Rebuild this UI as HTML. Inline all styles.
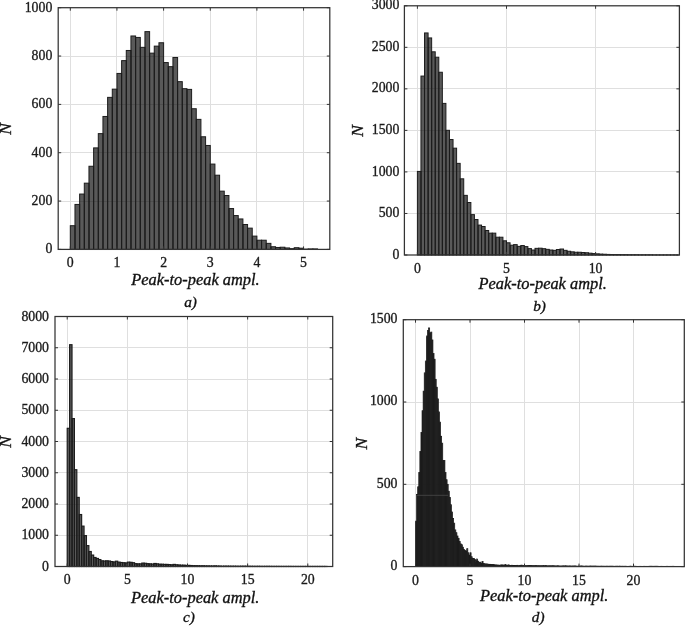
<!DOCTYPE html>
<html><head><meta charset="utf-8"><title>Histograms</title>
<style>
html,body{margin:0;padding:0;background:#fff}
svg{display:block}
.t{font-family:"Liberation Serif",serif;fill:#1a1a1a;stroke:#1a1a1a;stroke-width:0.35px}
.i{font-family:"Liberation Serif",serif;font-style:italic;fill:#111;stroke:#111;stroke-width:0.33px}
</style></head><body>
<svg width="685" height="626" viewBox="0 0 685 626">
<rect width="685" height="626" fill="#fff"/>
<rect x="58.2" y="7.7" width="271.6" height="241.70000000000002" fill="#fff"/>
<line x1="70.50" y1="7.7" x2="70.50" y2="249.4" stroke="#dfdfdf" stroke-width="1"/>
<line x1="116.50" y1="7.7" x2="116.50" y2="249.4" stroke="#dfdfdf" stroke-width="1"/>
<line x1="163.50" y1="7.7" x2="163.50" y2="249.4" stroke="#dfdfdf" stroke-width="1"/>
<line x1="210.50" y1="7.7" x2="210.50" y2="249.4" stroke="#dfdfdf" stroke-width="1"/>
<line x1="256.50" y1="7.7" x2="256.50" y2="249.4" stroke="#dfdfdf" stroke-width="1"/>
<line x1="303.50" y1="7.7" x2="303.50" y2="249.4" stroke="#dfdfdf" stroke-width="1"/>
<line x1="58.2" y1="201.50" x2="329.8" y2="201.50" stroke="#dfdfdf" stroke-width="1"/>
<line x1="58.2" y1="152.50" x2="329.8" y2="152.50" stroke="#dfdfdf" stroke-width="1"/>
<line x1="58.2" y1="104.50" x2="329.8" y2="104.50" stroke="#dfdfdf" stroke-width="1"/>
<line x1="58.2" y1="56.50" x2="329.8" y2="56.50" stroke="#dfdfdf" stroke-width="1"/>
<rect x="70.30" y="225.71" width="4.67" height="23.69" fill="#000" fill-opacity="0.65" stroke="#1c1c1c" stroke-width="1.0"/>
<rect x="74.97" y="204.44" width="4.67" height="44.96" fill="#000" fill-opacity="0.65" stroke="#1c1c1c" stroke-width="1.0"/>
<rect x="79.63" y="194.05" width="4.67" height="55.35" fill="#000" fill-opacity="0.65" stroke="#1c1c1c" stroke-width="1.0"/>
<rect x="84.30" y="183.17" width="4.67" height="66.23" fill="#000" fill-opacity="0.65" stroke="#1c1c1c" stroke-width="1.0"/>
<rect x="88.96" y="166.26" width="4.67" height="83.14" fill="#000" fill-opacity="0.65" stroke="#1c1c1c" stroke-width="1.0"/>
<rect x="93.62" y="147.89" width="4.67" height="101.51" fill="#000" fill-opacity="0.65" stroke="#1c1c1c" stroke-width="1.0"/>
<rect x="98.29" y="133.63" width="4.67" height="115.77" fill="#000" fill-opacity="0.65" stroke="#1c1c1c" stroke-width="1.0"/>
<rect x="102.95" y="116.47" width="4.67" height="132.94" fill="#000" fill-opacity="0.65" stroke="#1c1c1c" stroke-width="1.0"/>
<rect x="107.62" y="97.37" width="4.67" height="152.03" fill="#000" fill-opacity="0.65" stroke="#1c1c1c" stroke-width="1.0"/>
<rect x="112.28" y="89.15" width="4.67" height="160.25" fill="#000" fill-opacity="0.65" stroke="#1c1c1c" stroke-width="1.0"/>
<rect x="116.95" y="73.44" width="4.67" height="175.96" fill="#000" fill-opacity="0.65" stroke="#1c1c1c" stroke-width="1.0"/>
<rect x="121.62" y="60.63" width="4.67" height="188.77" fill="#000" fill-opacity="0.65" stroke="#1c1c1c" stroke-width="1.0"/>
<rect x="126.28" y="50.48" width="4.67" height="198.92" fill="#000" fill-opacity="0.65" stroke="#1c1c1c" stroke-width="1.0"/>
<rect x="130.94" y="35.98" width="4.67" height="213.42" fill="#000" fill-opacity="0.65" stroke="#1c1c1c" stroke-width="1.0"/>
<rect x="135.61" y="37.43" width="4.67" height="211.97" fill="#000" fill-opacity="0.65" stroke="#1c1c1c" stroke-width="1.0"/>
<rect x="140.27" y="47.34" width="4.67" height="202.06" fill="#000" fill-opacity="0.65" stroke="#1c1c1c" stroke-width="1.0"/>
<rect x="144.94" y="31.63" width="4.67" height="217.77" fill="#000" fill-opacity="0.65" stroke="#1c1c1c" stroke-width="1.0"/>
<rect x="149.61" y="53.14" width="4.67" height="196.26" fill="#000" fill-opacity="0.65" stroke="#1c1c1c" stroke-width="1.0"/>
<rect x="154.27" y="46.13" width="4.67" height="203.27" fill="#000" fill-opacity="0.65" stroke="#1c1c1c" stroke-width="1.0"/>
<rect x="158.94" y="42.75" width="4.67" height="206.65" fill="#000" fill-opacity="0.65" stroke="#1c1c1c" stroke-width="1.0"/>
<rect x="163.60" y="62.57" width="4.67" height="186.83" fill="#000" fill-opacity="0.65" stroke="#1c1c1c" stroke-width="1.0"/>
<rect x="168.26" y="66.67" width="4.67" height="182.73" fill="#000" fill-opacity="0.65" stroke="#1c1c1c" stroke-width="1.0"/>
<rect x="172.93" y="57.49" width="4.67" height="191.91" fill="#000" fill-opacity="0.65" stroke="#1c1c1c" stroke-width="1.0"/>
<rect x="177.60" y="81.66" width="4.67" height="167.74" fill="#000" fill-opacity="0.65" stroke="#1c1c1c" stroke-width="1.0"/>
<rect x="182.26" y="88.67" width="4.67" height="160.73" fill="#000" fill-opacity="0.65" stroke="#1c1c1c" stroke-width="1.0"/>
<rect x="186.93" y="89.39" width="4.67" height="160.01" fill="#000" fill-opacity="0.65" stroke="#1c1c1c" stroke-width="1.0"/>
<rect x="191.59" y="108.73" width="4.67" height="140.67" fill="#000" fill-opacity="0.65" stroke="#1c1c1c" stroke-width="1.0"/>
<rect x="196.25" y="119.37" width="4.67" height="130.03" fill="#000" fill-opacity="0.65" stroke="#1c1c1c" stroke-width="1.0"/>
<rect x="200.92" y="136.77" width="4.67" height="112.63" fill="#000" fill-opacity="0.65" stroke="#1c1c1c" stroke-width="1.0"/>
<rect x="205.59" y="145.47" width="4.67" height="103.93" fill="#000" fill-opacity="0.65" stroke="#1c1c1c" stroke-width="1.0"/>
<rect x="210.25" y="164.08" width="4.67" height="85.32" fill="#000" fill-opacity="0.65" stroke="#1c1c1c" stroke-width="1.0"/>
<rect x="214.92" y="175.20" width="4.67" height="74.20" fill="#000" fill-opacity="0.65" stroke="#1c1c1c" stroke-width="1.0"/>
<rect x="219.58" y="191.15" width="4.67" height="58.25" fill="#000" fill-opacity="0.65" stroke="#1c1c1c" stroke-width="1.0"/>
<rect x="224.25" y="195.50" width="4.67" height="53.90" fill="#000" fill-opacity="0.65" stroke="#1c1c1c" stroke-width="1.0"/>
<rect x="228.91" y="208.55" width="4.67" height="40.85" fill="#000" fill-opacity="0.65" stroke="#1c1c1c" stroke-width="1.0"/>
<rect x="233.57" y="215.56" width="4.67" height="33.84" fill="#000" fill-opacity="0.65" stroke="#1c1c1c" stroke-width="1.0"/>
<rect x="238.24" y="218.95" width="4.67" height="30.45" fill="#000" fill-opacity="0.65" stroke="#1c1c1c" stroke-width="1.0"/>
<rect x="242.90" y="224.50" width="4.67" height="24.90" fill="#000" fill-opacity="0.65" stroke="#1c1c1c" stroke-width="1.0"/>
<rect x="247.57" y="228.13" width="4.67" height="21.27" fill="#000" fill-opacity="0.65" stroke="#1c1c1c" stroke-width="1.0"/>
<rect x="252.24" y="236.11" width="4.67" height="13.29" fill="#000" fill-opacity="0.65" stroke="#1c1c1c" stroke-width="1.0"/>
<rect x="256.90" y="240.22" width="4.67" height="9.18" fill="#000" fill-opacity="0.65" stroke="#1c1c1c" stroke-width="1.0"/>
<rect x="261.56" y="240.22" width="4.67" height="9.18" fill="#000" fill-opacity="0.65" stroke="#1c1c1c" stroke-width="1.0"/>
<rect x="266.23" y="243.36" width="4.67" height="6.04" fill="#000" fill-opacity="0.65" stroke="#1c1c1c" stroke-width="1.0"/>
<rect x="270.89" y="246.74" width="4.67" height="2.66" fill="#000" fill-opacity="0.65" stroke="#1c1c1c" stroke-width="1.0"/>
<rect x="275.56" y="247.47" width="4.67" height="1.93" fill="#000" fill-opacity="0.65" stroke="#1c1c1c" stroke-width="1.0"/>
<rect x="280.22" y="247.22" width="4.67" height="2.18" fill="#000" fill-opacity="0.65" stroke="#1c1c1c" stroke-width="1.0"/>
<rect x="284.89" y="247.95" width="4.67" height="1.45" fill="#000" fill-opacity="0.65" stroke="#1c1c1c" stroke-width="1.0"/>
<rect x="289.56" y="248.67" width="4.67" height="0.73" fill="#000" fill-opacity="0.65" stroke="#1c1c1c" stroke-width="1.0"/>
<rect x="294.22" y="247.71" width="4.67" height="1.69" fill="#000" fill-opacity="0.65" stroke="#1c1c1c" stroke-width="1.0"/>
<rect x="298.88" y="248.19" width="4.67" height="1.21" fill="#000" fill-opacity="0.65" stroke="#1c1c1c" stroke-width="1.0"/>
<rect x="303.55" y="249.16" width="4.67" height="0.24" fill="#000" fill-opacity="0.65" stroke="#1c1c1c" stroke-width="1.0"/>
<rect x="308.22" y="248.92" width="4.67" height="0.48" fill="#000" fill-opacity="0.65" stroke="#1c1c1c" stroke-width="1.0"/>
<rect x="312.88" y="248.92" width="4.67" height="0.48" fill="#000" fill-opacity="0.65" stroke="#1c1c1c" stroke-width="1.0"/>
<rect x="58.2" y="7.7" width="271.6" height="241.70000000000002" fill="none" stroke="#333" stroke-width="1.25"/>
<line x1="70.30" y1="249.4" x2="70.30" y2="246.4" stroke="#333" stroke-width="1"/>
<line x1="70.30" y1="7.7" x2="70.30" y2="10.7" stroke="#333" stroke-width="1"/>
<text transform="translate(70.30,266.80) scale(0.885,1)" text-anchor="middle" font-size="15.6" class="t">0</text>
<line x1="116.95" y1="249.4" x2="116.95" y2="246.4" stroke="#333" stroke-width="1"/>
<line x1="116.95" y1="7.7" x2="116.95" y2="10.7" stroke="#333" stroke-width="1"/>
<text transform="translate(116.95,266.80) scale(0.885,1)" text-anchor="middle" font-size="15.6" class="t">1</text>
<line x1="163.60" y1="249.4" x2="163.60" y2="246.4" stroke="#333" stroke-width="1"/>
<line x1="163.60" y1="7.7" x2="163.60" y2="10.7" stroke="#333" stroke-width="1"/>
<text transform="translate(163.60,266.80) scale(0.885,1)" text-anchor="middle" font-size="15.6" class="t">2</text>
<line x1="210.25" y1="249.4" x2="210.25" y2="246.4" stroke="#333" stroke-width="1"/>
<line x1="210.25" y1="7.7" x2="210.25" y2="10.7" stroke="#333" stroke-width="1"/>
<text transform="translate(210.25,266.80) scale(0.885,1)" text-anchor="middle" font-size="15.6" class="t">3</text>
<line x1="256.90" y1="249.4" x2="256.90" y2="246.4" stroke="#333" stroke-width="1"/>
<line x1="256.90" y1="7.7" x2="256.90" y2="10.7" stroke="#333" stroke-width="1"/>
<text transform="translate(256.90,266.80) scale(0.885,1)" text-anchor="middle" font-size="15.6" class="t">4</text>
<line x1="303.55" y1="249.4" x2="303.55" y2="246.4" stroke="#333" stroke-width="1"/>
<line x1="303.55" y1="7.7" x2="303.55" y2="10.7" stroke="#333" stroke-width="1"/>
<text transform="translate(303.55,266.80) scale(0.885,1)" text-anchor="middle" font-size="15.6" class="t">5</text>
<line x1="58.2" y1="249.40" x2="61.2" y2="249.40" stroke="#333" stroke-width="1"/>
<line x1="329.8" y1="249.40" x2="326.8" y2="249.40" stroke="#333" stroke-width="1"/>
<text transform="translate(52.3,253.40) scale(0.885,1)" text-anchor="end" font-size="15.6" class="t">0</text>
<line x1="58.2" y1="201.06" x2="61.2" y2="201.06" stroke="#333" stroke-width="1"/>
<line x1="329.8" y1="201.06" x2="326.8" y2="201.06" stroke="#333" stroke-width="1"/>
<text transform="translate(52.3,205.06) scale(0.885,1)" text-anchor="end" font-size="15.6" class="t">200</text>
<line x1="58.2" y1="152.72" x2="61.2" y2="152.72" stroke="#333" stroke-width="1"/>
<line x1="329.8" y1="152.72" x2="326.8" y2="152.72" stroke="#333" stroke-width="1"/>
<text transform="translate(52.3,156.72) scale(0.885,1)" text-anchor="end" font-size="15.6" class="t">400</text>
<line x1="58.2" y1="104.38" x2="61.2" y2="104.38" stroke="#333" stroke-width="1"/>
<line x1="329.8" y1="104.38" x2="326.8" y2="104.38" stroke="#333" stroke-width="1"/>
<text transform="translate(52.3,108.38) scale(0.885,1)" text-anchor="end" font-size="15.6" class="t">600</text>
<line x1="58.2" y1="56.04" x2="61.2" y2="56.04" stroke="#333" stroke-width="1"/>
<line x1="329.8" y1="56.04" x2="326.8" y2="56.04" stroke="#333" stroke-width="1"/>
<text transform="translate(52.3,60.04) scale(0.885,1)" text-anchor="end" font-size="15.6" class="t">800</text>
<line x1="58.2" y1="7.70" x2="61.2" y2="7.70" stroke="#333" stroke-width="1"/>
<line x1="329.8" y1="7.70" x2="326.8" y2="7.70" stroke="#333" stroke-width="1"/>
<text transform="translate(52.3,11.70) scale(0.885,1)" text-anchor="end" font-size="15.6" class="t">1000</text>
<text transform="translate(195.5,285) scale(1,1)" text-anchor="middle" font-size="16.4" class="i">Peak-to-peak ampl.</text>
<text transform="translate(190.5,306.5) scale(1,1)" text-anchor="middle" font-size="15.3" class="i">a)</text>
<text transform="translate(10.9,128.95000000000002) rotate(-90) scale(1.0,1)" text-anchor="middle" font-size="17.5" class="i">N</text>
<rect x="404.4" y="5.8" width="275.0" height="249.2" fill="#fff"/>
<line x1="417.50" y1="5.8" x2="417.50" y2="255.0" stroke="#dfdfdf" stroke-width="1"/>
<line x1="506.50" y1="5.8" x2="506.50" y2="255.0" stroke="#dfdfdf" stroke-width="1"/>
<line x1="595.50" y1="5.8" x2="595.50" y2="255.0" stroke="#dfdfdf" stroke-width="1"/>
<line x1="404.4" y1="213.50" x2="679.4" y2="213.50" stroke="#dfdfdf" stroke-width="1"/>
<line x1="404.4" y1="171.50" x2="679.4" y2="171.50" stroke="#dfdfdf" stroke-width="1"/>
<line x1="404.4" y1="130.50" x2="679.4" y2="130.50" stroke="#dfdfdf" stroke-width="1"/>
<line x1="404.4" y1="88.50" x2="679.4" y2="88.50" stroke="#dfdfdf" stroke-width="1"/>
<line x1="404.4" y1="47.50" x2="679.4" y2="47.50" stroke="#dfdfdf" stroke-width="1"/>
<rect x="417.40" y="171.43" width="3.56" height="83.57" fill="#000" fill-opacity="0.65" stroke="#1c1c1c" stroke-width="1.0"/>
<rect x="420.96" y="76.07" width="3.56" height="178.93" fill="#000" fill-opacity="0.65" stroke="#1c1c1c" stroke-width="1.0"/>
<rect x="424.53" y="32.95" width="3.56" height="222.05" fill="#000" fill-opacity="0.65" stroke="#1c1c1c" stroke-width="1.0"/>
<rect x="428.09" y="37.94" width="3.56" height="217.06" fill="#000" fill-opacity="0.65" stroke="#1c1c1c" stroke-width="1.0"/>
<rect x="431.66" y="51.81" width="3.56" height="203.19" fill="#000" fill-opacity="0.65" stroke="#1c1c1c" stroke-width="1.0"/>
<rect x="435.22" y="57.21" width="3.56" height="197.79" fill="#000" fill-opacity="0.65" stroke="#1c1c1c" stroke-width="1.0"/>
<rect x="438.78" y="72.25" width="3.56" height="182.75" fill="#000" fill-opacity="0.65" stroke="#1c1c1c" stroke-width="1.0"/>
<rect x="442.35" y="103.40" width="3.56" height="151.60" fill="#000" fill-opacity="0.65" stroke="#1c1c1c" stroke-width="1.0"/>
<rect x="445.91" y="130.31" width="3.56" height="124.69" fill="#000" fill-opacity="0.65" stroke="#1c1c1c" stroke-width="1.0"/>
<rect x="449.48" y="139.53" width="3.56" height="115.47" fill="#000" fill-opacity="0.65" stroke="#1c1c1c" stroke-width="1.0"/>
<rect x="453.04" y="148.17" width="3.56" height="106.83" fill="#000" fill-opacity="0.65" stroke="#1c1c1c" stroke-width="1.0"/>
<rect x="456.60" y="163.37" width="3.56" height="91.63" fill="#000" fill-opacity="0.65" stroke="#1c1c1c" stroke-width="1.0"/>
<rect x="460.17" y="178.82" width="3.56" height="76.18" fill="#000" fill-opacity="0.65" stroke="#1c1c1c" stroke-width="1.0"/>
<rect x="463.73" y="195.36" width="3.56" height="59.64" fill="#000" fill-opacity="0.65" stroke="#1c1c1c" stroke-width="1.0"/>
<rect x="467.30" y="202.50" width="3.56" height="52.50" fill="#000" fill-opacity="0.65" stroke="#1c1c1c" stroke-width="1.0"/>
<rect x="470.86" y="214.63" width="3.56" height="40.37" fill="#000" fill-opacity="0.65" stroke="#1c1c1c" stroke-width="1.0"/>
<rect x="474.42" y="219.53" width="3.56" height="35.47" fill="#000" fill-opacity="0.65" stroke="#1c1c1c" stroke-width="1.0"/>
<rect x="477.99" y="225.09" width="3.56" height="29.91" fill="#000" fill-opacity="0.65" stroke="#1c1c1c" stroke-width="1.0"/>
<rect x="481.55" y="226.51" width="3.56" height="28.49" fill="#000" fill-opacity="0.65" stroke="#1c1c1c" stroke-width="1.0"/>
<rect x="485.12" y="230.49" width="3.56" height="24.51" fill="#000" fill-opacity="0.65" stroke="#1c1c1c" stroke-width="1.0"/>
<rect x="488.68" y="233.15" width="3.56" height="21.85" fill="#000" fill-opacity="0.65" stroke="#1c1c1c" stroke-width="1.0"/>
<rect x="492.24" y="233.15" width="3.56" height="21.85" fill="#000" fill-opacity="0.65" stroke="#1c1c1c" stroke-width="1.0"/>
<rect x="495.81" y="237.22" width="3.56" height="17.78" fill="#000" fill-opacity="0.65" stroke="#1c1c1c" stroke-width="1.0"/>
<rect x="499.37" y="237.22" width="3.56" height="17.78" fill="#000" fill-opacity="0.65" stroke="#1c1c1c" stroke-width="1.0"/>
<rect x="502.94" y="240.80" width="3.56" height="14.20" fill="#000" fill-opacity="0.65" stroke="#1c1c1c" stroke-width="1.0"/>
<rect x="506.50" y="242.79" width="3.56" height="12.21" fill="#000" fill-opacity="0.65" stroke="#1c1c1c" stroke-width="1.0"/>
<rect x="510.06" y="245.20" width="3.56" height="9.80" fill="#000" fill-opacity="0.65" stroke="#1c1c1c" stroke-width="1.0"/>
<rect x="513.63" y="244.62" width="3.56" height="10.38" fill="#000" fill-opacity="0.65" stroke="#1c1c1c" stroke-width="1.0"/>
<rect x="517.19" y="246.36" width="3.56" height="8.64" fill="#000" fill-opacity="0.65" stroke="#1c1c1c" stroke-width="1.0"/>
<rect x="520.76" y="245.53" width="3.56" height="9.47" fill="#000" fill-opacity="0.65" stroke="#1c1c1c" stroke-width="1.0"/>
<rect x="524.32" y="246.61" width="3.56" height="8.39" fill="#000" fill-opacity="0.65" stroke="#1c1c1c" stroke-width="1.0"/>
<rect x="527.88" y="248.60" width="3.56" height="6.40" fill="#000" fill-opacity="0.65" stroke="#1c1c1c" stroke-width="1.0"/>
<rect x="531.45" y="250.02" width="3.56" height="4.98" fill="#000" fill-opacity="0.65" stroke="#1c1c1c" stroke-width="1.0"/>
<rect x="535.01" y="248.35" width="3.56" height="6.65" fill="#000" fill-opacity="0.65" stroke="#1c1c1c" stroke-width="1.0"/>
<rect x="538.58" y="248.19" width="3.56" height="6.81" fill="#000" fill-opacity="0.65" stroke="#1c1c1c" stroke-width="1.0"/>
<rect x="542.14" y="248.69" width="3.56" height="6.31" fill="#000" fill-opacity="0.65" stroke="#1c1c1c" stroke-width="1.0"/>
<rect x="545.70" y="249.35" width="3.56" height="5.65" fill="#000" fill-opacity="0.65" stroke="#1c1c1c" stroke-width="1.0"/>
<rect x="549.27" y="250.02" width="3.56" height="4.98" fill="#000" fill-opacity="0.65" stroke="#1c1c1c" stroke-width="1.0"/>
<rect x="552.83" y="250.35" width="3.56" height="4.65" fill="#000" fill-opacity="0.65" stroke="#1c1c1c" stroke-width="1.0"/>
<rect x="556.40" y="249.52" width="3.56" height="5.48" fill="#000" fill-opacity="0.65" stroke="#1c1c1c" stroke-width="1.0"/>
<rect x="559.96" y="249.02" width="3.56" height="5.98" fill="#000" fill-opacity="0.65" stroke="#1c1c1c" stroke-width="1.0"/>
<rect x="563.52" y="250.35" width="3.56" height="4.65" fill="#000" fill-opacity="0.65" stroke="#1c1c1c" stroke-width="1.0"/>
<rect x="567.09" y="251.26" width="3.56" height="3.74" fill="#000" fill-opacity="0.65" stroke="#1c1c1c" stroke-width="1.0"/>
<rect x="570.65" y="251.84" width="3.56" height="3.16" fill="#000" fill-opacity="0.65" stroke="#1c1c1c" stroke-width="1.0"/>
<rect x="574.22" y="252.26" width="3.56" height="2.74" fill="#000" fill-opacity="0.65" stroke="#1c1c1c" stroke-width="1.0"/>
<rect x="577.78" y="252.26" width="3.56" height="2.74" fill="#000" fill-opacity="0.65" stroke="#1c1c1c" stroke-width="1.0"/>
<rect x="581.34" y="252.51" width="3.56" height="2.49" fill="#000" fill-opacity="0.65" stroke="#1c1c1c" stroke-width="1.0"/>
<rect x="584.91" y="252.76" width="3.56" height="2.24" fill="#000" fill-opacity="0.65" stroke="#1c1c1c" stroke-width="1.0"/>
<rect x="588.47" y="253.17" width="3.56" height="1.83" fill="#000" fill-opacity="0.65" stroke="#1c1c1c" stroke-width="1.0"/>
<rect x="592.04" y="253.59" width="3.56" height="1.41" fill="#000" fill-opacity="0.65" stroke="#1c1c1c" stroke-width="1.0"/>
<rect x="595.60" y="253.84" width="3.56" height="1.16" fill="#000" fill-opacity="0.65" stroke="#1c1c1c" stroke-width="1.0"/>
<rect x="599.16" y="254.09" width="3.56" height="0.91" fill="#000" fill-opacity="0.65" stroke="#1c1c1c" stroke-width="1.0"/>
<rect x="602.73" y="254.25" width="3.56" height="0.75" fill="#000" fill-opacity="0.65" stroke="#1c1c1c" stroke-width="1.0"/>
<rect x="606.29" y="254.42" width="3.56" height="0.58" fill="#000" fill-opacity="0.65" stroke="#1c1c1c" stroke-width="1.0"/>
<rect x="609.86" y="254.50" width="3.56" height="0.50" fill="#000" fill-opacity="0.65" stroke="#1c1c1c" stroke-width="1.0"/>
<rect x="613.42" y="254.58" width="3.56" height="0.42" fill="#000" fill-opacity="0.65" stroke="#1c1c1c" stroke-width="1.0"/>
<rect x="616.98" y="254.58" width="3.56" height="0.42" fill="#000" fill-opacity="0.65" stroke="#1c1c1c" stroke-width="1.0"/>
<rect x="620.55" y="254.67" width="3.56" height="0.33" fill="#000" fill-opacity="0.65" stroke="#1c1c1c" stroke-width="1.0"/>
<rect x="624.11" y="254.67" width="3.56" height="0.33" fill="#000" fill-opacity="0.65" stroke="#1c1c1c" stroke-width="1.0"/>
<rect x="627.68" y="254.75" width="3.56" height="0.25" fill="#000" fill-opacity="0.65" stroke="#1c1c1c" stroke-width="1.0"/>
<rect x="631.24" y="254.75" width="3.56" height="0.25" fill="#000" fill-opacity="0.65" stroke="#1c1c1c" stroke-width="1.0"/>
<rect x="634.80" y="254.75" width="3.56" height="0.25" fill="#000" fill-opacity="0.65" stroke="#1c1c1c" stroke-width="1.0"/>
<rect x="638.37" y="254.83" width="3.56" height="0.17" fill="#000" fill-opacity="0.65" stroke="#1c1c1c" stroke-width="1.0"/>
<rect x="641.93" y="254.83" width="3.56" height="0.17" fill="#000" fill-opacity="0.65" stroke="#1c1c1c" stroke-width="1.0"/>
<rect x="645.50" y="254.83" width="3.56" height="0.17" fill="#000" fill-opacity="0.65" stroke="#1c1c1c" stroke-width="1.0"/>
<rect x="649.06" y="254.83" width="3.56" height="0.17" fill="#000" fill-opacity="0.65" stroke="#1c1c1c" stroke-width="1.0"/>
<rect x="652.62" y="254.92" width="3.56" height="0.08" fill="#000" fill-opacity="0.65" stroke="#1c1c1c" stroke-width="1.0"/>
<rect x="656.19" y="254.92" width="3.56" height="0.08" fill="#000" fill-opacity="0.65" stroke="#1c1c1c" stroke-width="1.0"/>
<rect x="659.75" y="254.92" width="3.56" height="0.08" fill="#000" fill-opacity="0.65" stroke="#1c1c1c" stroke-width="1.0"/>
<rect x="663.32" y="254.92" width="3.56" height="0.08" fill="#000" fill-opacity="0.65" stroke="#1c1c1c" stroke-width="1.0"/>
<rect x="666.88" y="254.92" width="3.56" height="0.08" fill="#000" fill-opacity="0.65" stroke="#1c1c1c" stroke-width="1.0"/>
<rect x="670.44" y="254.92" width="3.56" height="0.08" fill="#000" fill-opacity="0.65" stroke="#1c1c1c" stroke-width="1.0"/>
<rect x="674.01" y="254.92" width="3.56" height="0.08" fill="#000" fill-opacity="0.65" stroke="#1c1c1c" stroke-width="1.0"/>
<rect x="404.4" y="5.8" width="275.0" height="249.2" fill="none" stroke="#333" stroke-width="1.25"/>
<line x1="417.40" y1="255.0" x2="417.40" y2="252.0" stroke="#333" stroke-width="1"/>
<line x1="417.40" y1="5.8" x2="417.40" y2="8.8" stroke="#333" stroke-width="1"/>
<text transform="translate(417.40,272.80) scale(0.885,1)" text-anchor="middle" font-size="15.6" class="t">0</text>
<line x1="506.50" y1="255.0" x2="506.50" y2="252.0" stroke="#333" stroke-width="1"/>
<line x1="506.50" y1="5.8" x2="506.50" y2="8.8" stroke="#333" stroke-width="1"/>
<text transform="translate(506.50,272.80) scale(0.885,1)" text-anchor="middle" font-size="15.6" class="t">5</text>
<line x1="595.60" y1="255.0" x2="595.60" y2="252.0" stroke="#333" stroke-width="1"/>
<line x1="595.60" y1="5.8" x2="595.60" y2="8.8" stroke="#333" stroke-width="1"/>
<text transform="translate(595.60,272.80) scale(0.885,1)" text-anchor="middle" font-size="15.6" class="t">10</text>
<line x1="404.4" y1="255.00" x2="407.4" y2="255.00" stroke="#333" stroke-width="1"/>
<line x1="679.4" y1="255.00" x2="676.4" y2="255.00" stroke="#333" stroke-width="1"/>
<text transform="translate(399.4,258.60) scale(0.885,1)" text-anchor="end" font-size="15.6" class="t">0</text>
<line x1="404.4" y1="213.47" x2="407.4" y2="213.47" stroke="#333" stroke-width="1"/>
<line x1="679.4" y1="213.47" x2="676.4" y2="213.47" stroke="#333" stroke-width="1"/>
<text transform="translate(399.4,217.06) scale(0.885,1)" text-anchor="end" font-size="15.6" class="t">500</text>
<line x1="404.4" y1="171.93" x2="407.4" y2="171.93" stroke="#333" stroke-width="1"/>
<line x1="679.4" y1="171.93" x2="676.4" y2="171.93" stroke="#333" stroke-width="1"/>
<text transform="translate(399.4,175.53) scale(0.885,1)" text-anchor="end" font-size="15.6" class="t">1000</text>
<line x1="404.4" y1="130.39" x2="407.4" y2="130.39" stroke="#333" stroke-width="1"/>
<line x1="679.4" y1="130.39" x2="676.4" y2="130.39" stroke="#333" stroke-width="1"/>
<text transform="translate(399.4,133.99) scale(0.885,1)" text-anchor="end" font-size="15.6" class="t">1500</text>
<line x1="404.4" y1="88.86" x2="407.4" y2="88.86" stroke="#333" stroke-width="1"/>
<line x1="679.4" y1="88.86" x2="676.4" y2="88.86" stroke="#333" stroke-width="1"/>
<text transform="translate(399.4,92.46) scale(0.885,1)" text-anchor="end" font-size="15.6" class="t">2000</text>
<line x1="404.4" y1="47.32" x2="407.4" y2="47.32" stroke="#333" stroke-width="1"/>
<line x1="679.4" y1="47.32" x2="676.4" y2="47.32" stroke="#333" stroke-width="1"/>
<text transform="translate(399.4,50.92) scale(0.885,1)" text-anchor="end" font-size="15.6" class="t">2500</text>
<line x1="404.4" y1="5.79" x2="407.4" y2="5.79" stroke="#333" stroke-width="1"/>
<line x1="679.4" y1="5.79" x2="676.4" y2="5.79" stroke="#333" stroke-width="1"/>
<text transform="translate(399.4,9.39) scale(0.885,1)" text-anchor="end" font-size="15.6" class="t">3000</text>
<text transform="translate(542.7,289.2) scale(1,1)" text-anchor="middle" font-size="16.4" class="i">Peak-to-peak ampl.</text>
<text transform="translate(539.6,311.1) scale(1,1)" text-anchor="middle" font-size="15.3" class="i">b)</text>
<text transform="translate(363.3,130.8) rotate(-90) scale(1.0,1)" text-anchor="middle" font-size="17.5" class="i">N</text>
<rect x="55" y="316.5" width="277.7" height="250.0" fill="#fff"/>
<line x1="67.50" y1="316.5" x2="67.50" y2="566.5" stroke="#dfdfdf" stroke-width="1"/>
<line x1="127.50" y1="316.5" x2="127.50" y2="566.5" stroke="#dfdfdf" stroke-width="1"/>
<line x1="187.50" y1="316.5" x2="187.50" y2="566.5" stroke="#dfdfdf" stroke-width="1"/>
<line x1="247.50" y1="316.5" x2="247.50" y2="566.5" stroke="#dfdfdf" stroke-width="1"/>
<line x1="307.50" y1="316.5" x2="307.50" y2="566.5" stroke="#dfdfdf" stroke-width="1"/>
<line x1="55" y1="535.50" x2="332.7" y2="535.50" stroke="#dfdfdf" stroke-width="1"/>
<line x1="55" y1="504.50" x2="332.7" y2="504.50" stroke="#dfdfdf" stroke-width="1"/>
<line x1="55" y1="472.50" x2="332.7" y2="472.50" stroke="#dfdfdf" stroke-width="1"/>
<line x1="55" y1="441.50" x2="332.7" y2="441.50" stroke="#dfdfdf" stroke-width="1"/>
<line x1="55" y1="410.50" x2="332.7" y2="410.50" stroke="#dfdfdf" stroke-width="1"/>
<line x1="55" y1="379.50" x2="332.7" y2="379.50" stroke="#dfdfdf" stroke-width="1"/>
<line x1="55" y1="347.50" x2="332.7" y2="347.50" stroke="#dfdfdf" stroke-width="1"/>
<rect x="67.20" y="428.31" width="2.41" height="138.19" fill="#000" fill-opacity="0.65" stroke="#1c1c1c" stroke-width="1.15"/>
<rect x="69.61" y="344.69" width="2.41" height="221.81" fill="#000" fill-opacity="0.65" stroke="#1c1c1c" stroke-width="1.15"/>
<rect x="72.01" y="418.59" width="2.41" height="147.91" fill="#000" fill-opacity="0.65" stroke="#1c1c1c" stroke-width="1.15"/>
<rect x="74.42" y="469.72" width="2.41" height="96.78" fill="#000" fill-opacity="0.65" stroke="#1c1c1c" stroke-width="1.15"/>
<rect x="76.82" y="497.41" width="2.41" height="69.09" fill="#000" fill-opacity="0.65" stroke="#1c1c1c" stroke-width="1.15"/>
<rect x="79.23" y="514.53" width="2.41" height="51.97" fill="#000" fill-opacity="0.65" stroke="#1c1c1c" stroke-width="1.15"/>
<rect x="81.64" y="526.12" width="2.41" height="40.38" fill="#000" fill-opacity="0.65" stroke="#1c1c1c" stroke-width="1.15"/>
<rect x="84.04" y="535.62" width="2.41" height="30.88" fill="#000" fill-opacity="0.65" stroke="#1c1c1c" stroke-width="1.15"/>
<rect x="86.45" y="545.62" width="2.41" height="20.88" fill="#000" fill-opacity="0.65" stroke="#1c1c1c" stroke-width="1.15"/>
<rect x="88.85" y="551.50" width="2.41" height="15.00" fill="#000" fill-opacity="0.65" stroke="#1c1c1c" stroke-width="1.15"/>
<rect x="91.26" y="555.06" width="2.41" height="11.44" fill="#000" fill-opacity="0.65" stroke="#1c1c1c" stroke-width="1.15"/>
<rect x="93.67" y="557.47" width="2.41" height="9.03" fill="#000" fill-opacity="0.65" stroke="#1c1c1c" stroke-width="1.15"/>
<rect x="96.07" y="558.44" width="2.41" height="8.06" fill="#000" fill-opacity="0.65" stroke="#1c1c1c" stroke-width="1.15"/>
<rect x="98.48" y="559.56" width="2.41" height="6.94" fill="#000" fill-opacity="0.65" stroke="#1c1c1c" stroke-width="1.15"/>
<rect x="100.88" y="560.81" width="2.41" height="5.69" fill="#000" fill-opacity="0.65" stroke="#1c1c1c" stroke-width="1.15"/>
<rect x="103.29" y="561.00" width="2.41" height="5.50" fill="#000" fill-opacity="0.65" stroke="#1c1c1c" stroke-width="1.15"/>
<rect x="105.70" y="560.81" width="2.41" height="5.69" fill="#000" fill-opacity="0.65" stroke="#1c1c1c" stroke-width="1.15"/>
<rect x="108.10" y="561.00" width="2.41" height="5.50" fill="#000" fill-opacity="0.65" stroke="#1c1c1c" stroke-width="1.15"/>
<rect x="110.51" y="561.56" width="2.41" height="4.94" fill="#000" fill-opacity="0.65" stroke="#1c1c1c" stroke-width="1.15"/>
<rect x="112.91" y="561.94" width="2.41" height="4.56" fill="#000" fill-opacity="0.65" stroke="#1c1c1c" stroke-width="1.15"/>
<rect x="115.32" y="561.19" width="2.41" height="5.31" fill="#000" fill-opacity="0.65" stroke="#1c1c1c" stroke-width="1.15"/>
<rect x="117.73" y="562.12" width="2.41" height="4.38" fill="#000" fill-opacity="0.65" stroke="#1c1c1c" stroke-width="1.15"/>
<rect x="120.13" y="562.50" width="2.41" height="4.00" fill="#000" fill-opacity="0.65" stroke="#1c1c1c" stroke-width="1.15"/>
<rect x="122.54" y="562.72" width="2.41" height="3.78" fill="#000" fill-opacity="0.65" stroke="#1c1c1c" stroke-width="1.15"/>
<rect x="124.94" y="562.91" width="2.41" height="3.59" fill="#000" fill-opacity="0.65" stroke="#1c1c1c" stroke-width="1.15"/>
<rect x="127.35" y="562.12" width="2.41" height="4.38" fill="#000" fill-opacity="0.65" stroke="#1c1c1c" stroke-width="1.15"/>
<rect x="129.76" y="562.31" width="2.41" height="4.19" fill="#000" fill-opacity="0.65" stroke="#1c1c1c" stroke-width="1.15"/>
<rect x="132.16" y="562.72" width="2.41" height="3.78" fill="#000" fill-opacity="0.65" stroke="#1c1c1c" stroke-width="1.15"/>
<rect x="134.57" y="563.66" width="2.41" height="2.84" fill="#000" fill-opacity="0.65" stroke="#1c1c1c" stroke-width="1.15"/>
<rect x="136.97" y="563.84" width="2.41" height="2.66" fill="#000" fill-opacity="0.65" stroke="#1c1c1c" stroke-width="1.15"/>
<rect x="139.38" y="563.84" width="2.41" height="2.66" fill="#000" fill-opacity="0.65" stroke="#1c1c1c" stroke-width="1.15"/>
<rect x="141.79" y="563.09" width="2.41" height="3.41" fill="#000" fill-opacity="0.65" stroke="#1c1c1c" stroke-width="1.15"/>
<rect x="144.19" y="563.28" width="2.41" height="3.22" fill="#000" fill-opacity="0.65" stroke="#1c1c1c" stroke-width="1.15"/>
<rect x="146.60" y="563.66" width="2.41" height="2.84" fill="#000" fill-opacity="0.65" stroke="#1c1c1c" stroke-width="1.15"/>
<rect x="149.00" y="563.84" width="2.41" height="2.66" fill="#000" fill-opacity="0.65" stroke="#1c1c1c" stroke-width="1.15"/>
<rect x="151.41" y="564.03" width="2.41" height="2.47" fill="#000" fill-opacity="0.65" stroke="#1c1c1c" stroke-width="1.15"/>
<rect x="153.82" y="563.47" width="2.41" height="3.03" fill="#000" fill-opacity="0.65" stroke="#1c1c1c" stroke-width="1.15"/>
<rect x="156.22" y="563.84" width="2.41" height="2.66" fill="#000" fill-opacity="0.65" stroke="#1c1c1c" stroke-width="1.15"/>
<rect x="158.63" y="564.22" width="2.41" height="2.28" fill="#000" fill-opacity="0.65" stroke="#1c1c1c" stroke-width="1.15"/>
<rect x="161.03" y="564.22" width="2.41" height="2.28" fill="#000" fill-opacity="0.65" stroke="#1c1c1c" stroke-width="1.15"/>
<rect x="163.44" y="564.41" width="2.41" height="2.09" fill="#000" fill-opacity="0.65" stroke="#1c1c1c" stroke-width="1.15"/>
<rect x="165.85" y="564.41" width="2.41" height="2.09" fill="#000" fill-opacity="0.65" stroke="#1c1c1c" stroke-width="1.15"/>
<rect x="168.25" y="564.59" width="2.41" height="1.91" fill="#000" fill-opacity="0.65" stroke="#1c1c1c" stroke-width="1.15"/>
<rect x="170.66" y="564.78" width="2.41" height="1.72" fill="#000" fill-opacity="0.65" stroke="#1c1c1c" stroke-width="1.15"/>
<rect x="173.06" y="564.41" width="2.41" height="2.09" fill="#000" fill-opacity="0.65" stroke="#1c1c1c" stroke-width="1.15"/>
<rect x="175.47" y="564.78" width="2.41" height="1.72" fill="#000" fill-opacity="0.65" stroke="#1c1c1c" stroke-width="1.15"/>
<rect x="177.88" y="564.97" width="2.41" height="1.53" fill="#000" fill-opacity="0.65" stroke="#1c1c1c" stroke-width="1.15"/>
<rect x="180.28" y="565.16" width="2.41" height="1.34" fill="#000" fill-opacity="0.65" stroke="#1c1c1c" stroke-width="1.15"/>
<rect x="182.69" y="565.16" width="2.41" height="1.34" fill="#000" fill-opacity="0.65" stroke="#1c1c1c" stroke-width="1.15"/>
<rect x="185.09" y="565.38" width="2.41" height="1.12" fill="#000" fill-opacity="0.65" stroke="#1c1c1c" stroke-width="1.15"/>
<rect x="187.50" y="565.38" width="2.41" height="1.12" fill="#000" fill-opacity="0.65" stroke="#1c1c1c" stroke-width="1.15"/>
<rect x="189.91" y="565.53" width="2.41" height="0.97" fill="#000" fill-opacity="0.65" stroke="#1c1c1c" stroke-width="1.15"/>
<rect x="192.31" y="565.66" width="2.41" height="0.84" fill="#000" fill-opacity="0.65" stroke="#1c1c1c" stroke-width="1.15"/>
<rect x="194.72" y="565.69" width="2.41" height="0.81" fill="#000" fill-opacity="0.65" stroke="#1c1c1c" stroke-width="1.15"/>
<rect x="197.12" y="565.75" width="2.41" height="0.75" fill="#000" fill-opacity="0.65" stroke="#1c1c1c" stroke-width="1.15"/>
<rect x="199.53" y="565.81" width="2.41" height="0.69" fill="#000" fill-opacity="0.65" stroke="#1c1c1c" stroke-width="1.15"/>
<rect x="201.94" y="565.78" width="2.41" height="0.72" fill="#000" fill-opacity="0.65" stroke="#1c1c1c" stroke-width="1.15"/>
<rect x="204.34" y="565.88" width="2.41" height="0.62" fill="#000" fill-opacity="0.65" stroke="#1c1c1c" stroke-width="1.15"/>
<rect x="206.75" y="565.91" width="2.41" height="0.59" fill="#000" fill-opacity="0.65" stroke="#1c1c1c" stroke-width="1.15"/>
<rect x="209.15" y="565.94" width="2.41" height="0.56" fill="#000" fill-opacity="0.65" stroke="#1c1c1c" stroke-width="1.15"/>
<rect x="211.56" y="565.97" width="2.41" height="0.53" fill="#000" fill-opacity="0.65" stroke="#1c1c1c" stroke-width="1.15"/>
<rect x="213.97" y="565.86" width="2.41" height="0.64" fill="#000" fill-opacity="0.65" stroke="#1c1c1c" stroke-width="1.15"/>
<rect x="216.37" y="566.00" width="2.41" height="0.50" fill="#000" fill-opacity="0.65" stroke="#1c1c1c" stroke-width="1.15"/>
<rect x="218.78" y="566.05" width="2.41" height="0.45" fill="#000" fill-opacity="0.65" stroke="#1c1c1c" stroke-width="1.15"/>
<rect x="221.18" y="566.20" width="2.41" height="0.30" fill="#000" fill-opacity="0.65" stroke="#1c1c1c" stroke-width="1.15"/>
<rect x="223.59" y="566.12" width="2.41" height="0.38" fill="#000" fill-opacity="0.65" stroke="#1c1c1c" stroke-width="1.15"/>
<rect x="226.00" y="566.14" width="2.41" height="0.36" fill="#000" fill-opacity="0.65" stroke="#1c1c1c" stroke-width="1.15"/>
<rect x="228.40" y="566.15" width="2.41" height="0.35" fill="#000" fill-opacity="0.65" stroke="#1c1c1c" stroke-width="1.15"/>
<rect x="230.81" y="566.20" width="2.41" height="0.30" fill="#000" fill-opacity="0.65" stroke="#1c1c1c" stroke-width="1.15"/>
<rect x="233.21" y="566.18" width="2.41" height="0.32" fill="#000" fill-opacity="0.65" stroke="#1c1c1c" stroke-width="1.15"/>
<rect x="235.62" y="566.22" width="2.41" height="0.28" fill="#000" fill-opacity="0.65" stroke="#1c1c1c" stroke-width="1.15"/>
<rect x="238.03" y="566.27" width="2.41" height="0.23" fill="#000" fill-opacity="0.65" stroke="#1c1c1c" stroke-width="1.15"/>
<rect x="240.43" y="566.20" width="2.41" height="0.30" fill="#000" fill-opacity="0.65" stroke="#1c1c1c" stroke-width="1.15"/>
<rect x="242.84" y="566.21" width="2.41" height="0.29" fill="#000" fill-opacity="0.65" stroke="#1c1c1c" stroke-width="1.15"/>
<rect x="245.24" y="566.20" width="2.41" height="0.30" fill="#000" fill-opacity="0.65" stroke="#1c1c1c" stroke-width="1.15"/>
<rect x="247.65" y="566.27" width="2.41" height="0.23" fill="#000" fill-opacity="0.65" stroke="#1c1c1c" stroke-width="1.15"/>
<rect x="250.06" y="566.30" width="2.41" height="0.20" fill="#000" fill-opacity="0.65" stroke="#1c1c1c" stroke-width="1.15"/>
<rect x="252.46" y="566.32" width="2.41" height="0.18" fill="#000" fill-opacity="0.65" stroke="#1c1c1c" stroke-width="1.15"/>
<rect x="254.87" y="566.35" width="2.41" height="0.15" fill="#000" fill-opacity="0.65" stroke="#1c1c1c" stroke-width="1.15"/>
<rect x="257.27" y="566.29" width="2.41" height="0.21" fill="#000" fill-opacity="0.65" stroke="#1c1c1c" stroke-width="1.15"/>
<rect x="259.68" y="566.36" width="2.41" height="0.14" fill="#000" fill-opacity="0.65" stroke="#1c1c1c" stroke-width="1.15"/>
<rect x="262.09" y="566.37" width="2.41" height="0.13" fill="#000" fill-opacity="0.65" stroke="#1c1c1c" stroke-width="1.15"/>
<rect x="264.49" y="566.35" width="2.41" height="0.15" fill="#000" fill-opacity="0.65" stroke="#1c1c1c" stroke-width="1.15"/>
<rect x="266.90" y="566.33" width="2.41" height="0.17" fill="#000" fill-opacity="0.65" stroke="#1c1c1c" stroke-width="1.15"/>
<rect x="269.30" y="566.36" width="2.41" height="0.14" fill="#000" fill-opacity="0.65" stroke="#1c1c1c" stroke-width="1.15"/>
<rect x="271.71" y="566.39" width="2.41" height="0.11" fill="#000" fill-opacity="0.65" stroke="#1c1c1c" stroke-width="1.15"/>
<rect x="274.12" y="566.39" width="2.41" height="0.11" fill="#000" fill-opacity="0.65" stroke="#1c1c1c" stroke-width="1.15"/>
<rect x="276.52" y="566.38" width="2.41" height="0.12" fill="#000" fill-opacity="0.65" stroke="#1c1c1c" stroke-width="1.15"/>
<rect x="278.93" y="566.40" width="2.41" height="0.10" fill="#000" fill-opacity="0.65" stroke="#1c1c1c" stroke-width="1.15"/>
<rect x="281.33" y="566.41" width="2.41" height="0.09" fill="#000" fill-opacity="0.65" stroke="#1c1c1c" stroke-width="1.15"/>
<rect x="283.74" y="566.41" width="2.41" height="0.09" fill="#000" fill-opacity="0.65" stroke="#1c1c1c" stroke-width="1.15"/>
<rect x="286.15" y="566.40" width="2.41" height="0.10" fill="#000" fill-opacity="0.65" stroke="#1c1c1c" stroke-width="1.15"/>
<rect x="288.55" y="566.39" width="2.41" height="0.11" fill="#000" fill-opacity="0.65" stroke="#1c1c1c" stroke-width="1.15"/>
<rect x="290.96" y="566.43" width="2.41" height="0.07" fill="#000" fill-opacity="0.65" stroke="#1c1c1c" stroke-width="1.15"/>
<rect x="293.36" y="566.43" width="2.41" height="0.07" fill="#000" fill-opacity="0.65" stroke="#1c1c1c" stroke-width="1.15"/>
<rect x="295.77" y="566.44" width="2.41" height="0.06" fill="#000" fill-opacity="0.65" stroke="#1c1c1c" stroke-width="1.15"/>
<rect x="298.18" y="566.44" width="2.41" height="0.06" fill="#000" fill-opacity="0.65" stroke="#1c1c1c" stroke-width="1.15"/>
<rect x="300.58" y="566.44" width="2.41" height="0.06" fill="#000" fill-opacity="0.65" stroke="#1c1c1c" stroke-width="1.15"/>
<rect x="302.99" y="566.44" width="2.41" height="0.06" fill="#000" fill-opacity="0.65" stroke="#1c1c1c" stroke-width="1.15"/>
<rect x="305.39" y="566.43" width="2.41" height="0.07" fill="#000" fill-opacity="0.65" stroke="#1c1c1c" stroke-width="1.15"/>
<rect x="307.80" y="566.44" width="2.41" height="0.06" fill="#000" fill-opacity="0.65" stroke="#1c1c1c" stroke-width="1.15"/>
<rect x="310.21" y="566.44" width="2.41" height="0.06" fill="#000" fill-opacity="0.65" stroke="#1c1c1c" stroke-width="1.15"/>
<rect x="312.61" y="566.44" width="2.41" height="0.06" fill="#000" fill-opacity="0.65" stroke="#1c1c1c" stroke-width="1.15"/>
<rect x="315.02" y="566.44" width="2.41" height="0.06" fill="#000" fill-opacity="0.65" stroke="#1c1c1c" stroke-width="1.15"/>
<rect x="317.42" y="566.44" width="2.41" height="0.06" fill="#000" fill-opacity="0.65" stroke="#1c1c1c" stroke-width="1.15"/>
<rect x="319.83" y="566.44" width="2.41" height="0.06" fill="#000" fill-opacity="0.65" stroke="#1c1c1c" stroke-width="1.15"/>
<rect x="322.24" y="566.44" width="2.41" height="0.06" fill="#000" fill-opacity="0.65" stroke="#1c1c1c" stroke-width="1.15"/>
<rect x="324.64" y="566.44" width="2.41" height="0.06" fill="#000" fill-opacity="0.65" stroke="#1c1c1c" stroke-width="1.15"/>
<rect x="55" y="316.5" width="277.7" height="250.0" fill="none" stroke="#333" stroke-width="1.25"/>
<line x1="67.20" y1="566.5" x2="67.20" y2="563.5" stroke="#333" stroke-width="1"/>
<line x1="67.20" y1="316.5" x2="67.20" y2="319.5" stroke="#333" stroke-width="1"/>
<text transform="translate(67.20,584.30) scale(0.885,1)" text-anchor="middle" font-size="15.6" class="t">0</text>
<line x1="127.35" y1="566.5" x2="127.35" y2="563.5" stroke="#333" stroke-width="1"/>
<line x1="127.35" y1="316.5" x2="127.35" y2="319.5" stroke="#333" stroke-width="1"/>
<text transform="translate(127.35,584.30) scale(0.885,1)" text-anchor="middle" font-size="15.6" class="t">5</text>
<line x1="187.50" y1="566.5" x2="187.50" y2="563.5" stroke="#333" stroke-width="1"/>
<line x1="187.50" y1="316.5" x2="187.50" y2="319.5" stroke="#333" stroke-width="1"/>
<text transform="translate(187.50,584.30) scale(0.885,1)" text-anchor="middle" font-size="15.6" class="t">10</text>
<line x1="247.65" y1="566.5" x2="247.65" y2="563.5" stroke="#333" stroke-width="1"/>
<line x1="247.65" y1="316.5" x2="247.65" y2="319.5" stroke="#333" stroke-width="1"/>
<text transform="translate(247.65,584.30) scale(0.885,1)" text-anchor="middle" font-size="15.6" class="t">15</text>
<line x1="307.80" y1="566.5" x2="307.80" y2="563.5" stroke="#333" stroke-width="1"/>
<line x1="307.80" y1="316.5" x2="307.80" y2="319.5" stroke="#333" stroke-width="1"/>
<text transform="translate(307.80,584.30) scale(0.885,1)" text-anchor="middle" font-size="15.6" class="t">20</text>
<line x1="55" y1="566.50" x2="58" y2="566.50" stroke="#333" stroke-width="1"/>
<line x1="332.7" y1="566.50" x2="329.7" y2="566.50" stroke="#333" stroke-width="1"/>
<text transform="translate(49,570.50) scale(0.885,1)" text-anchor="end" font-size="15.6" class="t">0</text>
<line x1="55" y1="535.25" x2="58" y2="535.25" stroke="#333" stroke-width="1"/>
<line x1="332.7" y1="535.25" x2="329.7" y2="535.25" stroke="#333" stroke-width="1"/>
<text transform="translate(49,539.25) scale(0.885,1)" text-anchor="end" font-size="15.6" class="t">1000</text>
<line x1="55" y1="504.00" x2="58" y2="504.00" stroke="#333" stroke-width="1"/>
<line x1="332.7" y1="504.00" x2="329.7" y2="504.00" stroke="#333" stroke-width="1"/>
<text transform="translate(49,508.00) scale(0.885,1)" text-anchor="end" font-size="15.6" class="t">2000</text>
<line x1="55" y1="472.75" x2="58" y2="472.75" stroke="#333" stroke-width="1"/>
<line x1="332.7" y1="472.75" x2="329.7" y2="472.75" stroke="#333" stroke-width="1"/>
<text transform="translate(49,476.75) scale(0.885,1)" text-anchor="end" font-size="15.6" class="t">3000</text>
<line x1="55" y1="441.50" x2="58" y2="441.50" stroke="#333" stroke-width="1"/>
<line x1="332.7" y1="441.50" x2="329.7" y2="441.50" stroke="#333" stroke-width="1"/>
<text transform="translate(49,445.50) scale(0.885,1)" text-anchor="end" font-size="15.6" class="t">4000</text>
<line x1="55" y1="410.25" x2="58" y2="410.25" stroke="#333" stroke-width="1"/>
<line x1="332.7" y1="410.25" x2="329.7" y2="410.25" stroke="#333" stroke-width="1"/>
<text transform="translate(49,414.25) scale(0.885,1)" text-anchor="end" font-size="15.6" class="t">5000</text>
<line x1="55" y1="379.00" x2="58" y2="379.00" stroke="#333" stroke-width="1"/>
<line x1="332.7" y1="379.00" x2="329.7" y2="379.00" stroke="#333" stroke-width="1"/>
<text transform="translate(49,383.00) scale(0.885,1)" text-anchor="end" font-size="15.6" class="t">6000</text>
<line x1="55" y1="347.75" x2="58" y2="347.75" stroke="#333" stroke-width="1"/>
<line x1="332.7" y1="347.75" x2="329.7" y2="347.75" stroke="#333" stroke-width="1"/>
<text transform="translate(49,351.75) scale(0.885,1)" text-anchor="end" font-size="15.6" class="t">7000</text>
<line x1="55" y1="316.50" x2="58" y2="316.50" stroke="#333" stroke-width="1"/>
<line x1="332.7" y1="316.50" x2="329.7" y2="316.50" stroke="#333" stroke-width="1"/>
<text transform="translate(49,320.50) scale(0.885,1)" text-anchor="end" font-size="15.6" class="t">8000</text>
<text transform="translate(195.2,602.6) scale(1,1)" text-anchor="middle" font-size="16.4" class="i">Peak-to-peak ampl.</text>
<text transform="translate(189,622) scale(1,1)" text-anchor="middle" font-size="15.3" class="i">c)</text>
<text transform="translate(11.2,441.9) rotate(-90) scale(1.0,1)" text-anchor="middle" font-size="17.5" class="i">N</text>
<rect x="403.3" y="319.7" width="280.99999999999994" height="246.90000000000003" fill="#fff"/>
<line x1="415.50" y1="319.7" x2="415.50" y2="566.6" stroke="#dfdfdf" stroke-width="1"/>
<line x1="470.50" y1="319.7" x2="470.50" y2="566.6" stroke="#dfdfdf" stroke-width="1"/>
<line x1="524.50" y1="319.7" x2="524.50" y2="566.6" stroke="#dfdfdf" stroke-width="1"/>
<line x1="579.50" y1="319.7" x2="579.50" y2="566.6" stroke="#dfdfdf" stroke-width="1"/>
<line x1="633.50" y1="319.7" x2="633.50" y2="566.6" stroke="#dfdfdf" stroke-width="1"/>
<line x1="403.3" y1="484.50" x2="684.3" y2="484.50" stroke="#dfdfdf" stroke-width="1"/>
<line x1="403.3" y1="402.50" x2="684.3" y2="402.50" stroke="#dfdfdf" stroke-width="1"/>
<rect x="415.50" y="521.17" width="1.09" height="45.43" fill="#2a2a2a" stroke="#161616" stroke-width="0.7"/>
<rect x="416.59" y="494.34" width="1.09" height="72.26" fill="#2a2a2a" stroke="#161616" stroke-width="0.7"/>
<rect x="417.68" y="486.77" width="1.09" height="79.83" fill="#2a2a2a" stroke="#161616" stroke-width="0.7"/>
<rect x="418.77" y="472.61" width="1.09" height="93.99" fill="#2a2a2a" stroke="#161616" stroke-width="0.7"/>
<rect x="419.86" y="451.54" width="1.09" height="115.06" fill="#2a2a2a" stroke="#161616" stroke-width="0.7"/>
<rect x="420.95" y="432.45" width="1.09" height="134.15" fill="#2a2a2a" stroke="#161616" stroke-width="0.7"/>
<rect x="422.04" y="410.72" width="1.09" height="155.88" fill="#2a2a2a" stroke="#161616" stroke-width="0.7"/>
<rect x="423.13" y="391.14" width="1.09" height="175.46" fill="#2a2a2a" stroke="#161616" stroke-width="0.7"/>
<rect x="424.22" y="372.87" width="1.09" height="193.73" fill="#2a2a2a" stroke="#161616" stroke-width="0.7"/>
<rect x="425.31" y="361.01" width="1.09" height="205.59" fill="#2a2a2a" stroke="#161616" stroke-width="0.7"/>
<rect x="426.40" y="336.00" width="1.09" height="230.60" fill="#2a2a2a" stroke="#161616" stroke-width="0.7"/>
<rect x="427.49" y="330.40" width="1.09" height="236.20" fill="#2a2a2a" stroke="#161616" stroke-width="0.7"/>
<rect x="428.58" y="327.93" width="1.09" height="238.67" fill="#2a2a2a" stroke="#161616" stroke-width="0.7"/>
<rect x="429.67" y="332.87" width="1.09" height="233.73" fill="#2a2a2a" stroke="#161616" stroke-width="0.7"/>
<rect x="430.76" y="332.05" width="1.09" height="234.56" fill="#2a2a2a" stroke="#161616" stroke-width="0.7"/>
<rect x="431.85" y="339.95" width="1.09" height="226.65" fill="#2a2a2a" stroke="#161616" stroke-width="0.7"/>
<rect x="432.94" y="353.61" width="1.09" height="212.99" fill="#2a2a2a" stroke="#161616" stroke-width="0.7"/>
<rect x="434.03" y="359.20" width="1.09" height="207.40" fill="#2a2a2a" stroke="#161616" stroke-width="0.7"/>
<rect x="435.12" y="379.29" width="1.09" height="187.31" fill="#2a2a2a" stroke="#161616" stroke-width="0.7"/>
<rect x="436.21" y="387.19" width="1.09" height="179.41" fill="#2a2a2a" stroke="#161616" stroke-width="0.7"/>
<rect x="437.30" y="398.87" width="1.09" height="167.73" fill="#2a2a2a" stroke="#161616" stroke-width="0.7"/>
<rect x="438.39" y="411.88" width="1.09" height="154.72" fill="#2a2a2a" stroke="#161616" stroke-width="0.7"/>
<rect x="439.48" y="422.08" width="1.09" height="144.52" fill="#2a2a2a" stroke="#161616" stroke-width="0.7"/>
<rect x="440.57" y="436.24" width="1.09" height="130.36" fill="#2a2a2a" stroke="#161616" stroke-width="0.7"/>
<rect x="441.66" y="443.15" width="1.09" height="123.45" fill="#2a2a2a" stroke="#161616" stroke-width="0.7"/>
<rect x="442.75" y="460.43" width="1.09" height="106.17" fill="#2a2a2a" stroke="#161616" stroke-width="0.7"/>
<rect x="443.84" y="460.43" width="1.09" height="106.17" fill="#2a2a2a" stroke="#161616" stroke-width="0.7"/>
<rect x="444.93" y="472.61" width="1.09" height="93.99" fill="#2a2a2a" stroke="#161616" stroke-width="0.7"/>
<rect x="446.02" y="479.69" width="1.09" height="86.91" fill="#2a2a2a" stroke="#161616" stroke-width="0.7"/>
<rect x="447.11" y="484.30" width="1.09" height="82.30" fill="#2a2a2a" stroke="#161616" stroke-width="0.7"/>
<rect x="448.20" y="491.21" width="1.09" height="75.39" fill="#2a2a2a" stroke="#161616" stroke-width="0.7"/>
<rect x="449.29" y="497.63" width="1.09" height="68.97" fill="#2a2a2a" stroke="#161616" stroke-width="0.7"/>
<rect x="450.38" y="504.71" width="1.09" height="61.89" fill="#2a2a2a" stroke="#161616" stroke-width="0.7"/>
<rect x="451.47" y="511.95" width="1.09" height="54.65" fill="#2a2a2a" stroke="#161616" stroke-width="0.7"/>
<rect x="452.56" y="518.37" width="1.09" height="48.23" fill="#2a2a2a" stroke="#161616" stroke-width="0.7"/>
<rect x="453.65" y="523.15" width="1.09" height="43.45" fill="#2a2a2a" stroke="#161616" stroke-width="0.7"/>
<rect x="454.74" y="529.89" width="1.09" height="36.71" fill="#2a2a2a" stroke="#161616" stroke-width="0.7"/>
<rect x="455.83" y="532.69" width="1.09" height="33.91" fill="#2a2a2a" stroke="#161616" stroke-width="0.7"/>
<rect x="456.92" y="535.98" width="1.09" height="30.62" fill="#2a2a2a" stroke="#161616" stroke-width="0.7"/>
<rect x="458.01" y="538.29" width="1.09" height="28.31" fill="#2a2a2a" stroke="#161616" stroke-width="0.7"/>
<rect x="459.10" y="541.58" width="1.09" height="25.02" fill="#2a2a2a" stroke="#161616" stroke-width="0.7"/>
<rect x="460.19" y="543.89" width="1.09" height="22.71" fill="#2a2a2a" stroke="#161616" stroke-width="0.7"/>
<rect x="461.28" y="544.71" width="1.09" height="21.89" fill="#2a2a2a" stroke="#161616" stroke-width="0.7"/>
<rect x="462.37" y="547.18" width="1.09" height="19.42" fill="#2a2a2a" stroke="#161616" stroke-width="0.7"/>
<rect x="463.46" y="549.48" width="1.09" height="17.12" fill="#2a2a2a" stroke="#161616" stroke-width="0.7"/>
<rect x="464.55" y="550.30" width="1.09" height="16.30" fill="#2a2a2a" stroke="#161616" stroke-width="0.7"/>
<rect x="465.64" y="551.13" width="1.09" height="15.47" fill="#2a2a2a" stroke="#161616" stroke-width="0.7"/>
<rect x="466.73" y="548.66" width="1.09" height="17.94" fill="#2a2a2a" stroke="#161616" stroke-width="0.7"/>
<rect x="467.82" y="552.77" width="1.09" height="13.83" fill="#2a2a2a" stroke="#161616" stroke-width="0.7"/>
<rect x="468.91" y="555.08" width="1.09" height="11.52" fill="#2a2a2a" stroke="#161616" stroke-width="0.7"/>
<rect x="470.00" y="552.77" width="1.09" height="13.83" fill="#2a2a2a" stroke="#161616" stroke-width="0.7"/>
<rect x="471.09" y="556.72" width="1.09" height="9.88" fill="#2a2a2a" stroke="#161616" stroke-width="0.7"/>
<rect x="472.18" y="558.37" width="1.09" height="8.23" fill="#2a2a2a" stroke="#161616" stroke-width="0.7"/>
<rect x="473.27" y="558.53" width="1.09" height="8.07" fill="#2a2a2a" stroke="#161616" stroke-width="0.7"/>
<rect x="474.36" y="559.52" width="1.09" height="7.08" fill="#2a2a2a" stroke="#161616" stroke-width="0.7"/>
<rect x="475.45" y="560.67" width="1.09" height="5.93" fill="#2a2a2a" stroke="#161616" stroke-width="0.7"/>
<rect x="476.54" y="559.03" width="1.09" height="7.57" fill="#2a2a2a" stroke="#161616" stroke-width="0.7"/>
<rect x="477.63" y="561.17" width="1.09" height="5.43" fill="#2a2a2a" stroke="#161616" stroke-width="0.7"/>
<rect x="478.72" y="562.32" width="1.09" height="4.28" fill="#2a2a2a" stroke="#161616" stroke-width="0.7"/>
<rect x="479.81" y="562.16" width="1.09" height="4.44" fill="#2a2a2a" stroke="#161616" stroke-width="0.7"/>
<rect x="480.90" y="563.14" width="1.09" height="3.46" fill="#2a2a2a" stroke="#161616" stroke-width="0.7"/>
<rect x="481.99" y="561.50" width="1.09" height="5.10" fill="#2a2a2a" stroke="#161616" stroke-width="0.7"/>
<rect x="483.08" y="563.47" width="1.09" height="3.13" fill="#2a2a2a" stroke="#161616" stroke-width="0.7"/>
<rect x="484.17" y="563.80" width="1.09" height="2.80" fill="#2a2a2a" stroke="#161616" stroke-width="0.7"/>
<rect x="485.26" y="563.97" width="1.09" height="2.63" fill="#2a2a2a" stroke="#161616" stroke-width="0.7"/>
<rect x="486.35" y="563.97" width="1.09" height="2.63" fill="#2a2a2a" stroke="#161616" stroke-width="0.7"/>
<rect x="487.44" y="564.13" width="1.09" height="2.47" fill="#2a2a2a" stroke="#161616" stroke-width="0.7"/>
<rect x="488.53" y="564.30" width="1.09" height="2.30" fill="#2a2a2a" stroke="#161616" stroke-width="0.7"/>
<rect x="489.62" y="564.30" width="1.09" height="2.30" fill="#2a2a2a" stroke="#161616" stroke-width="0.7"/>
<rect x="490.71" y="564.46" width="1.09" height="2.14" fill="#2a2a2a" stroke="#161616" stroke-width="0.7"/>
<rect x="491.80" y="564.62" width="1.09" height="1.98" fill="#2a2a2a" stroke="#161616" stroke-width="0.7"/>
<rect x="492.89" y="564.62" width="1.09" height="1.98" fill="#2a2a2a" stroke="#161616" stroke-width="0.7"/>
<rect x="493.98" y="564.79" width="1.09" height="1.81" fill="#2a2a2a" stroke="#161616" stroke-width="0.7"/>
<rect x="495.07" y="564.95" width="1.09" height="1.65" fill="#2a2a2a" stroke="#161616" stroke-width="0.7"/>
<rect x="496.16" y="564.95" width="1.09" height="1.65" fill="#2a2a2a" stroke="#161616" stroke-width="0.7"/>
<rect x="497.25" y="565.12" width="1.09" height="1.48" fill="#2a2a2a" stroke="#161616" stroke-width="0.7"/>
<rect x="498.34" y="565.12" width="1.09" height="1.48" fill="#2a2a2a" stroke="#161616" stroke-width="0.7"/>
<rect x="499.43" y="565.28" width="1.09" height="1.32" fill="#2a2a2a" stroke="#161616" stroke-width="0.7"/>
<rect x="500.52" y="564.95" width="1.09" height="1.65" fill="#2a2a2a" stroke="#161616" stroke-width="0.7"/>
<rect x="501.61" y="564.95" width="1.09" height="1.65" fill="#2a2a2a" stroke="#161616" stroke-width="0.7"/>
<rect x="502.70" y="564.99" width="1.09" height="1.61" fill="#2a2a2a" stroke="#161616" stroke-width="0.7"/>
<rect x="503.79" y="565.19" width="1.09" height="1.41" fill="#2a2a2a" stroke="#161616" stroke-width="0.7"/>
<rect x="504.88" y="564.60" width="1.09" height="2.00" fill="#2a2a2a" stroke="#161616" stroke-width="0.7"/>
<rect x="505.97" y="565.22" width="1.09" height="1.38" fill="#2a2a2a" stroke="#161616" stroke-width="0.7"/>
<rect x="507.06" y="565.16" width="1.09" height="1.44" fill="#2a2a2a" stroke="#161616" stroke-width="0.7"/>
<rect x="508.15" y="564.88" width="1.09" height="1.72" fill="#2a2a2a" stroke="#161616" stroke-width="0.7"/>
<rect x="509.24" y="565.42" width="1.09" height="1.18" fill="#2a2a2a" stroke="#161616" stroke-width="0.7"/>
<rect x="510.33" y="565.38" width="1.09" height="1.22" fill="#2a2a2a" stroke="#161616" stroke-width="0.7"/>
<rect x="511.42" y="565.24" width="1.09" height="1.36" fill="#2a2a2a" stroke="#161616" stroke-width="0.7"/>
<rect x="512.51" y="565.37" width="1.09" height="1.23" fill="#2a2a2a" stroke="#161616" stroke-width="0.7"/>
<rect x="513.60" y="565.55" width="1.09" height="1.05" fill="#2a2a2a" stroke="#161616" stroke-width="0.7"/>
<rect x="514.69" y="565.38" width="1.09" height="1.22" fill="#2a2a2a" stroke="#161616" stroke-width="0.7"/>
<rect x="515.78" y="565.43" width="1.09" height="1.17" fill="#2a2a2a" stroke="#161616" stroke-width="0.7"/>
<rect x="516.87" y="565.28" width="1.09" height="1.32" fill="#2a2a2a" stroke="#161616" stroke-width="0.7"/>
<rect x="517.96" y="565.71" width="1.09" height="0.89" fill="#2a2a2a" stroke="#161616" stroke-width="0.7"/>
<rect x="519.05" y="565.55" width="1.09" height="1.05" fill="#2a2a2a" stroke="#161616" stroke-width="0.7"/>
<rect x="520.14" y="565.25" width="1.09" height="1.35" fill="#2a2a2a" stroke="#161616" stroke-width="0.7"/>
<rect x="521.23" y="565.15" width="1.09" height="1.45" fill="#2a2a2a" stroke="#161616" stroke-width="0.7"/>
<rect x="522.32" y="565.74" width="1.09" height="0.86" fill="#2a2a2a" stroke="#161616" stroke-width="0.7"/>
<rect x="523.41" y="565.40" width="1.09" height="1.20" fill="#2a2a2a" stroke="#161616" stroke-width="0.7"/>
<rect x="524.50" y="565.68" width="1.09" height="0.92" fill="#2a2a2a" stroke="#161616" stroke-width="0.7"/>
<rect x="525.59" y="565.67" width="1.09" height="0.93" fill="#2a2a2a" stroke="#161616" stroke-width="0.7"/>
<rect x="526.68" y="565.69" width="1.09" height="0.91" fill="#2a2a2a" stroke="#161616" stroke-width="0.7"/>
<rect x="527.77" y="565.64" width="1.09" height="0.96" fill="#2a2a2a" stroke="#161616" stroke-width="0.7"/>
<rect x="528.86" y="565.44" width="1.09" height="1.16" fill="#2a2a2a" stroke="#161616" stroke-width="0.7"/>
<rect x="529.95" y="565.50" width="1.09" height="1.10" fill="#2a2a2a" stroke="#161616" stroke-width="0.7"/>
<rect x="531.04" y="565.61" width="1.09" height="0.99" fill="#2a2a2a" stroke="#161616" stroke-width="0.7"/>
<rect x="532.13" y="565.69" width="1.09" height="0.91" fill="#2a2a2a" stroke="#161616" stroke-width="0.7"/>
<rect x="533.22" y="565.65" width="1.09" height="0.95" fill="#2a2a2a" stroke="#161616" stroke-width="0.7"/>
<rect x="534.31" y="565.68" width="1.09" height="0.92" fill="#2a2a2a" stroke="#161616" stroke-width="0.7"/>
<rect x="535.40" y="565.57" width="1.09" height="1.03" fill="#2a2a2a" stroke="#161616" stroke-width="0.7"/>
<rect x="536.49" y="565.78" width="1.09" height="0.82" fill="#2a2a2a" stroke="#161616" stroke-width="0.7"/>
<rect x="537.58" y="565.71" width="1.09" height="0.89" fill="#2a2a2a" stroke="#161616" stroke-width="0.7"/>
<rect x="538.67" y="565.74" width="1.09" height="0.86" fill="#2a2a2a" stroke="#161616" stroke-width="0.7"/>
<rect x="539.76" y="565.74" width="1.09" height="0.86" fill="#2a2a2a" stroke="#161616" stroke-width="0.7"/>
<rect x="540.85" y="565.72" width="1.09" height="0.88" fill="#2a2a2a" stroke="#161616" stroke-width="0.7"/>
<rect x="541.94" y="565.74" width="1.09" height="0.86" fill="#2a2a2a" stroke="#161616" stroke-width="0.7"/>
<rect x="543.03" y="565.61" width="1.09" height="0.99" fill="#2a2a2a" stroke="#161616" stroke-width="0.7"/>
<rect x="544.12" y="565.80" width="1.09" height="0.80" fill="#2a2a2a" stroke="#161616" stroke-width="0.7"/>
<rect x="545.21" y="565.61" width="1.09" height="0.99" fill="#2a2a2a" stroke="#161616" stroke-width="0.7"/>
<rect x="546.30" y="565.85" width="1.09" height="0.75" fill="#2a2a2a" stroke="#161616" stroke-width="0.7"/>
<rect x="547.39" y="565.88" width="1.09" height="0.72" fill="#2a2a2a" stroke="#161616" stroke-width="0.7"/>
<rect x="548.48" y="565.82" width="1.09" height="0.78" fill="#2a2a2a" stroke="#161616" stroke-width="0.7"/>
<rect x="549.57" y="565.81" width="1.09" height="0.79" fill="#2a2a2a" stroke="#161616" stroke-width="0.7"/>
<rect x="550.66" y="565.83" width="1.09" height="0.77" fill="#2a2a2a" stroke="#161616" stroke-width="0.7"/>
<rect x="551.75" y="565.73" width="1.09" height="0.87" fill="#2a2a2a" stroke="#161616" stroke-width="0.7"/>
<rect x="552.84" y="565.75" width="1.09" height="0.85" fill="#2a2a2a" stroke="#161616" stroke-width="0.7"/>
<rect x="553.93" y="565.84" width="1.09" height="0.76" fill="#2a2a2a" stroke="#161616" stroke-width="0.7"/>
<rect x="555.02" y="565.93" width="1.09" height="0.67" fill="#2a2a2a" stroke="#161616" stroke-width="0.7"/>
<rect x="556.11" y="565.92" width="1.09" height="0.68" fill="#2a2a2a" stroke="#161616" stroke-width="0.7"/>
<rect x="557.20" y="565.77" width="1.09" height="0.83" fill="#2a2a2a" stroke="#161616" stroke-width="0.7"/>
<rect x="558.29" y="565.91" width="1.09" height="0.69" fill="#2a2a2a" stroke="#161616" stroke-width="0.7"/>
<rect x="559.38" y="566.07" width="1.09" height="0.53" fill="#2a2a2a" stroke="#161616" stroke-width="0.7"/>
<rect x="560.47" y="566.01" width="1.09" height="0.59" fill="#2a2a2a" stroke="#161616" stroke-width="0.7"/>
<rect x="561.56" y="566.01" width="1.09" height="0.59" fill="#2a2a2a" stroke="#161616" stroke-width="0.7"/>
<rect x="562.65" y="565.85" width="1.09" height="0.75" fill="#2a2a2a" stroke="#161616" stroke-width="0.7"/>
<rect x="563.74" y="565.98" width="1.09" height="0.62" fill="#2a2a2a" stroke="#161616" stroke-width="0.7"/>
<rect x="564.83" y="565.77" width="1.09" height="0.83" fill="#2a2a2a" stroke="#161616" stroke-width="0.7"/>
<rect x="565.92" y="565.93" width="1.09" height="0.67" fill="#2a2a2a" stroke="#161616" stroke-width="0.7"/>
<rect x="567.01" y="565.99" width="1.09" height="0.61" fill="#2a2a2a" stroke="#161616" stroke-width="0.7"/>
<rect x="568.10" y="566.04" width="1.09" height="0.56" fill="#2a2a2a" stroke="#161616" stroke-width="0.7"/>
<rect x="569.19" y="565.93" width="1.09" height="0.67" fill="#2a2a2a" stroke="#161616" stroke-width="0.7"/>
<rect x="570.28" y="566.04" width="1.09" height="0.56" fill="#2a2a2a" stroke="#161616" stroke-width="0.7"/>
<rect x="571.37" y="566.10" width="1.09" height="0.50" fill="#2a2a2a" stroke="#161616" stroke-width="0.7"/>
<rect x="572.46" y="565.99" width="1.09" height="0.61" fill="#2a2a2a" stroke="#161616" stroke-width="0.7"/>
<rect x="573.55" y="566.04" width="1.09" height="0.56" fill="#2a2a2a" stroke="#161616" stroke-width="0.7"/>
<rect x="574.64" y="565.95" width="1.09" height="0.65" fill="#2a2a2a" stroke="#161616" stroke-width="0.7"/>
<rect x="575.73" y="566.06" width="1.09" height="0.54" fill="#2a2a2a" stroke="#161616" stroke-width="0.7"/>
<rect x="576.82" y="566.29" width="1.09" height="0.31" fill="#2a2a2a" stroke="#161616" stroke-width="0.7"/>
<rect x="577.91" y="566.01" width="1.09" height="0.59" fill="#2a2a2a" stroke="#161616" stroke-width="0.7"/>
<rect x="579.00" y="566.22" width="1.09" height="0.38" fill="#2a2a2a" stroke="#161616" stroke-width="0.7"/>
<rect x="580.09" y="565.97" width="1.09" height="0.63" fill="#2a2a2a" stroke="#161616" stroke-width="0.7"/>
<rect x="581.18" y="565.95" width="1.09" height="0.65" fill="#2a2a2a" stroke="#161616" stroke-width="0.7"/>
<rect x="582.27" y="566.13" width="1.09" height="0.47" fill="#2a2a2a" stroke="#161616" stroke-width="0.7"/>
<rect x="583.36" y="566.19" width="1.09" height="0.41" fill="#2a2a2a" stroke="#161616" stroke-width="0.7"/>
<rect x="584.45" y="566.21" width="1.09" height="0.39" fill="#2a2a2a" stroke="#161616" stroke-width="0.7"/>
<rect x="585.54" y="566.05" width="1.09" height="0.55" fill="#2a2a2a" stroke="#161616" stroke-width="0.7"/>
<rect x="586.63" y="566.13" width="1.09" height="0.47" fill="#2a2a2a" stroke="#161616" stroke-width="0.7"/>
<rect x="587.72" y="566.17" width="1.09" height="0.43" fill="#2a2a2a" stroke="#161616" stroke-width="0.7"/>
<rect x="588.81" y="566.15" width="1.09" height="0.45" fill="#2a2a2a" stroke="#161616" stroke-width="0.7"/>
<rect x="589.90" y="565.99" width="1.09" height="0.61" fill="#2a2a2a" stroke="#161616" stroke-width="0.7"/>
<rect x="590.99" y="566.12" width="1.09" height="0.48" fill="#2a2a2a" stroke="#161616" stroke-width="0.7"/>
<rect x="592.08" y="566.10" width="1.09" height="0.50" fill="#2a2a2a" stroke="#161616" stroke-width="0.7"/>
<rect x="593.17" y="566.10" width="1.09" height="0.50" fill="#2a2a2a" stroke="#161616" stroke-width="0.7"/>
<rect x="594.26" y="566.09" width="1.09" height="0.51" fill="#2a2a2a" stroke="#161616" stroke-width="0.7"/>
<rect x="595.35" y="566.09" width="1.09" height="0.51" fill="#2a2a2a" stroke="#161616" stroke-width="0.7"/>
<rect x="596.44" y="566.21" width="1.09" height="0.39" fill="#2a2a2a" stroke="#161616" stroke-width="0.7"/>
<rect x="597.53" y="566.19" width="1.09" height="0.41" fill="#2a2a2a" stroke="#161616" stroke-width="0.7"/>
<rect x="598.62" y="566.22" width="1.09" height="0.38" fill="#2a2a2a" stroke="#161616" stroke-width="0.7"/>
<rect x="599.71" y="566.23" width="1.09" height="0.37" fill="#2a2a2a" stroke="#161616" stroke-width="0.7"/>
<rect x="600.80" y="566.11" width="1.09" height="0.49" fill="#2a2a2a" stroke="#161616" stroke-width="0.7"/>
<rect x="601.89" y="566.22" width="1.09" height="0.38" fill="#2a2a2a" stroke="#161616" stroke-width="0.7"/>
<rect x="602.98" y="566.20" width="1.09" height="0.40" fill="#2a2a2a" stroke="#161616" stroke-width="0.7"/>
<rect x="604.07" y="566.24" width="1.09" height="0.36" fill="#2a2a2a" stroke="#161616" stroke-width="0.7"/>
<rect x="605.16" y="566.24" width="1.09" height="0.36" fill="#2a2a2a" stroke="#161616" stroke-width="0.7"/>
<rect x="606.25" y="566.16" width="1.09" height="0.44" fill="#2a2a2a" stroke="#161616" stroke-width="0.7"/>
<rect x="607.34" y="566.24" width="1.09" height="0.36" fill="#2a2a2a" stroke="#161616" stroke-width="0.7"/>
<rect x="608.43" y="566.24" width="1.09" height="0.36" fill="#2a2a2a" stroke="#161616" stroke-width="0.7"/>
<rect x="609.52" y="566.19" width="1.09" height="0.41" fill="#2a2a2a" stroke="#161616" stroke-width="0.7"/>
<rect x="610.61" y="566.19" width="1.09" height="0.41" fill="#2a2a2a" stroke="#161616" stroke-width="0.7"/>
<rect x="611.70" y="566.18" width="1.09" height="0.42" fill="#2a2a2a" stroke="#161616" stroke-width="0.7"/>
<rect x="612.79" y="566.22" width="1.09" height="0.38" fill="#2a2a2a" stroke="#161616" stroke-width="0.7"/>
<rect x="613.88" y="566.33" width="1.09" height="0.27" fill="#2a2a2a" stroke="#161616" stroke-width="0.7"/>
<rect x="614.97" y="566.20" width="1.09" height="0.40" fill="#2a2a2a" stroke="#161616" stroke-width="0.7"/>
<rect x="616.06" y="566.21" width="1.09" height="0.39" fill="#2a2a2a" stroke="#161616" stroke-width="0.7"/>
<rect x="617.15" y="566.19" width="1.09" height="0.41" fill="#2a2a2a" stroke="#161616" stroke-width="0.7"/>
<rect x="618.24" y="566.29" width="1.09" height="0.31" fill="#2a2a2a" stroke="#161616" stroke-width="0.7"/>
<rect x="619.33" y="566.11" width="1.09" height="0.49" fill="#2a2a2a" stroke="#161616" stroke-width="0.7"/>
<rect x="620.42" y="566.32" width="1.09" height="0.28" fill="#2a2a2a" stroke="#161616" stroke-width="0.7"/>
<rect x="621.51" y="566.22" width="1.09" height="0.38" fill="#2a2a2a" stroke="#161616" stroke-width="0.7"/>
<rect x="622.60" y="566.25" width="1.09" height="0.35" fill="#2a2a2a" stroke="#161616" stroke-width="0.7"/>
<rect x="623.69" y="566.28" width="1.09" height="0.32" fill="#2a2a2a" stroke="#161616" stroke-width="0.7"/>
<rect x="624.78" y="566.22" width="1.09" height="0.38" fill="#2a2a2a" stroke="#161616" stroke-width="0.7"/>
<rect x="625.87" y="566.28" width="1.09" height="0.32" fill="#2a2a2a" stroke="#161616" stroke-width="0.7"/>
<rect x="626.96" y="566.38" width="1.09" height="0.22" fill="#2a2a2a" stroke="#161616" stroke-width="0.7"/>
<rect x="628.05" y="566.33" width="1.09" height="0.27" fill="#2a2a2a" stroke="#161616" stroke-width="0.7"/>
<rect x="629.14" y="566.25" width="1.09" height="0.35" fill="#2a2a2a" stroke="#161616" stroke-width="0.7"/>
<rect x="630.23" y="566.17" width="1.09" height="0.43" fill="#2a2a2a" stroke="#161616" stroke-width="0.7"/>
<rect x="631.32" y="566.35" width="1.09" height="0.25" fill="#2a2a2a" stroke="#161616" stroke-width="0.7"/>
<rect x="632.41" y="566.28" width="1.09" height="0.32" fill="#2a2a2a" stroke="#161616" stroke-width="0.7"/>
<rect x="633.50" y="566.21" width="1.09" height="0.39" fill="#2a2a2a" stroke="#161616" stroke-width="0.7"/>
<rect x="634.59" y="566.26" width="1.09" height="0.34" fill="#2a2a2a" stroke="#161616" stroke-width="0.7"/>
<rect x="635.68" y="566.31" width="1.09" height="0.29" fill="#2a2a2a" stroke="#161616" stroke-width="0.7"/>
<rect x="636.77" y="566.36" width="1.09" height="0.24" fill="#2a2a2a" stroke="#161616" stroke-width="0.7"/>
<rect x="637.86" y="566.37" width="1.09" height="0.23" fill="#2a2a2a" stroke="#161616" stroke-width="0.7"/>
<rect x="638.95" y="566.33" width="1.09" height="0.27" fill="#2a2a2a" stroke="#161616" stroke-width="0.7"/>
<rect x="640.04" y="566.31" width="1.09" height="0.29" fill="#2a2a2a" stroke="#161616" stroke-width="0.7"/>
<rect x="641.13" y="566.40" width="1.09" height="0.20" fill="#2a2a2a" stroke="#161616" stroke-width="0.7"/>
<rect x="642.22" y="566.38" width="1.09" height="0.22" fill="#2a2a2a" stroke="#161616" stroke-width="0.7"/>
<rect x="643.31" y="566.29" width="1.09" height="0.31" fill="#2a2a2a" stroke="#161616" stroke-width="0.7"/>
<rect x="644.40" y="566.32" width="1.09" height="0.28" fill="#2a2a2a" stroke="#161616" stroke-width="0.7"/>
<rect x="645.49" y="566.34" width="1.09" height="0.26" fill="#2a2a2a" stroke="#161616" stroke-width="0.7"/>
<rect x="646.58" y="566.33" width="1.09" height="0.27" fill="#2a2a2a" stroke="#161616" stroke-width="0.7"/>
<rect x="647.67" y="566.35" width="1.09" height="0.25" fill="#2a2a2a" stroke="#161616" stroke-width="0.7"/>
<rect x="648.76" y="566.27" width="1.09" height="0.33" fill="#2a2a2a" stroke="#161616" stroke-width="0.7"/>
<rect x="649.85" y="566.24" width="1.09" height="0.36" fill="#2a2a2a" stroke="#161616" stroke-width="0.7"/>
<rect x="650.94" y="566.23" width="1.09" height="0.37" fill="#2a2a2a" stroke="#161616" stroke-width="0.7"/>
<rect x="652.03" y="566.29" width="1.09" height="0.31" fill="#2a2a2a" stroke="#161616" stroke-width="0.7"/>
<rect x="653.12" y="566.29" width="1.09" height="0.31" fill="#2a2a2a" stroke="#161616" stroke-width="0.7"/>
<rect x="654.21" y="566.26" width="1.09" height="0.34" fill="#2a2a2a" stroke="#161616" stroke-width="0.7"/>
<rect x="655.30" y="566.25" width="1.09" height="0.35" fill="#2a2a2a" stroke="#161616" stroke-width="0.7"/>
<rect x="656.39" y="566.26" width="1.09" height="0.34" fill="#2a2a2a" stroke="#161616" stroke-width="0.7"/>
<rect x="657.48" y="566.28" width="1.09" height="0.32" fill="#2a2a2a" stroke="#161616" stroke-width="0.7"/>
<rect x="658.57" y="566.35" width="1.09" height="0.25" fill="#2a2a2a" stroke="#161616" stroke-width="0.7"/>
<rect x="659.66" y="566.39" width="1.09" height="0.21" fill="#2a2a2a" stroke="#161616" stroke-width="0.7"/>
<rect x="660.75" y="566.29" width="1.09" height="0.31" fill="#2a2a2a" stroke="#161616" stroke-width="0.7"/>
<rect x="661.84" y="566.34" width="1.09" height="0.26" fill="#2a2a2a" stroke="#161616" stroke-width="0.7"/>
<rect x="662.93" y="566.34" width="1.09" height="0.26" fill="#2a2a2a" stroke="#161616" stroke-width="0.7"/>
<rect x="664.02" y="566.37" width="1.09" height="0.23" fill="#2a2a2a" stroke="#161616" stroke-width="0.7"/>
<rect x="665.11" y="566.39" width="1.09" height="0.21" fill="#2a2a2a" stroke="#161616" stroke-width="0.7"/>
<rect x="666.20" y="566.28" width="1.09" height="0.32" fill="#2a2a2a" stroke="#161616" stroke-width="0.7"/>
<rect x="667.29" y="566.32" width="1.09" height="0.28" fill="#2a2a2a" stroke="#161616" stroke-width="0.7"/>
<rect x="668.38" y="566.38" width="1.09" height="0.22" fill="#2a2a2a" stroke="#161616" stroke-width="0.7"/>
<rect x="669.47" y="566.33" width="1.09" height="0.27" fill="#2a2a2a" stroke="#161616" stroke-width="0.7"/>
<rect x="670.56" y="566.33" width="1.09" height="0.27" fill="#2a2a2a" stroke="#161616" stroke-width="0.7"/>
<rect x="671.65" y="566.32" width="1.09" height="0.28" fill="#2a2a2a" stroke="#161616" stroke-width="0.7"/>
<rect x="672.74" y="566.26" width="1.09" height="0.34" fill="#2a2a2a" stroke="#161616" stroke-width="0.7"/>
<rect x="673.83" y="566.35" width="1.09" height="0.25" fill="#2a2a2a" stroke="#161616" stroke-width="0.7"/>
<rect x="403.3" y="319.7" width="280.99999999999994" height="246.90000000000003" fill="none" stroke="#333" stroke-width="1.25"/>
<line x1="415.50" y1="566.6" x2="415.50" y2="563.6" stroke="#333" stroke-width="1"/>
<line x1="415.50" y1="319.7" x2="415.50" y2="322.7" stroke="#333" stroke-width="1"/>
<text transform="translate(415.50,584.60) scale(0.885,1)" text-anchor="middle" font-size="15.6" class="t">0</text>
<line x1="470.00" y1="566.6" x2="470.00" y2="563.6" stroke="#333" stroke-width="1"/>
<line x1="470.00" y1="319.7" x2="470.00" y2="322.7" stroke="#333" stroke-width="1"/>
<text transform="translate(470.00,584.60) scale(0.885,1)" text-anchor="middle" font-size="15.6" class="t">5</text>
<line x1="524.50" y1="566.6" x2="524.50" y2="563.6" stroke="#333" stroke-width="1"/>
<line x1="524.50" y1="319.7" x2="524.50" y2="322.7" stroke="#333" stroke-width="1"/>
<text transform="translate(524.50,584.60) scale(0.885,1)" text-anchor="middle" font-size="15.6" class="t">10</text>
<line x1="579.00" y1="566.6" x2="579.00" y2="563.6" stroke="#333" stroke-width="1"/>
<line x1="579.00" y1="319.7" x2="579.00" y2="322.7" stroke="#333" stroke-width="1"/>
<text transform="translate(579.00,584.60) scale(0.885,1)" text-anchor="middle" font-size="15.6" class="t">15</text>
<line x1="633.50" y1="566.6" x2="633.50" y2="563.6" stroke="#333" stroke-width="1"/>
<line x1="633.50" y1="319.7" x2="633.50" y2="322.7" stroke="#333" stroke-width="1"/>
<text transform="translate(633.50,584.60) scale(0.885,1)" text-anchor="middle" font-size="15.6" class="t">20</text>
<line x1="403.3" y1="566.60" x2="406.3" y2="566.60" stroke="#333" stroke-width="1"/>
<line x1="684.3" y1="566.60" x2="681.3" y2="566.60" stroke="#333" stroke-width="1"/>
<text transform="translate(397.5,570.00) scale(0.885,1)" text-anchor="end" font-size="15.6" class="t">0</text>
<line x1="403.3" y1="484.30" x2="406.3" y2="484.30" stroke="#333" stroke-width="1"/>
<line x1="684.3" y1="484.30" x2="681.3" y2="484.30" stroke="#333" stroke-width="1"/>
<text transform="translate(397.5,487.70) scale(0.885,1)" text-anchor="end" font-size="15.6" class="t">500</text>
<line x1="403.3" y1="402.00" x2="406.3" y2="402.00" stroke="#333" stroke-width="1"/>
<line x1="684.3" y1="402.00" x2="681.3" y2="402.00" stroke="#333" stroke-width="1"/>
<text transform="translate(397.5,405.40) scale(0.885,1)" text-anchor="end" font-size="15.6" class="t">1000</text>
<line x1="403.3" y1="319.70" x2="406.3" y2="319.70" stroke="#333" stroke-width="1"/>
<line x1="684.3" y1="319.70" x2="681.3" y2="319.70" stroke="#333" stroke-width="1"/>
<text transform="translate(397.5,323.10) scale(0.885,1)" text-anchor="end" font-size="15.6" class="t">1500</text>
<text transform="translate(544.2,600.7) scale(1,1)" text-anchor="middle" font-size="16.4" class="i">Peak-to-peak ampl.</text>
<text transform="translate(538.2,621.8) scale(1,1)" text-anchor="middle" font-size="15.3" class="i">d)</text>
<text transform="translate(366.7,443.54999999999995) rotate(-90) scale(1.0,1)" text-anchor="middle" font-size="17.5" class="i">N</text>
<line x1="417" y1="495.3" x2="448" y2="495.3" stroke="#4a4a4a" stroke-width="0.8"/>
</svg>
</body></html>
